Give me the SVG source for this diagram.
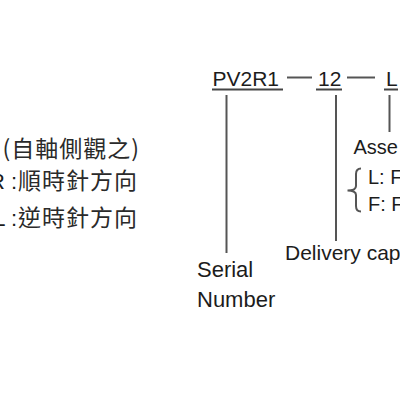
<svg xmlns="http://www.w3.org/2000/svg" width="400" height="400" viewBox="0 0 400 400">
<style>
.t{font-family:"Liberation Sans","Noto Sans CJK TC",sans-serif;fill:#1c1c1c}
.cjk{font-family:"Noto Sans CJK TC","Liberation Sans",sans-serif;fill:#2a2a2a;font-size:23px;letter-spacing:1px}
.ln{stroke:#555;stroke-width:2;fill:none}
.ul{stroke:#444;stroke-width:2}
</style>
<rect width="400" height="400" fill="#fff"/>
<g id="rotation-note">
<text class="cjk" x="2.5" y="157">(自軸側觀之)</text>
<text class="t" x="17" y="189" font-size="22" text-anchor="end">R :</text>
<text class="cjk" x="18" y="189">順時針方向</text>
<text class="t" x="17" y="226" font-size="22" text-anchor="end">L :</text>
<text class="cjk" x="18" y="226">逆時針方向</text>
</g>
<g id="code">
<g id="serial-code">
<text class="t" x="212.5" y="86" font-size="21">PV2R1</text>
<line class="ul" x1="212" y1="89.5" x2="283" y2="89.5"/>
</g>
<g id="capacity-code">
<text class="t" x="318" y="86" font-size="21">12</text>
<line class="ul" x1="316" y1="89.5" x2="342" y2="89.5"/>
</g>
<g id="assembly-code">
<text class="t" x="386" y="86" font-size="21">L</text>
<line class="ul" x1="384" y1="89.5" x2="398" y2="89.5"/>
</g>
</g>
<g id="connectors">
<line class="ln" x1="287" y1="77.5" x2="312" y2="77.5"/>
<line class="ln" x1="347" y1="77.5" x2="375" y2="77.5"/>
<line class="ln" x1="226.5" y1="95" x2="226.5" y2="253"/>
<line class="ln" x1="336" y1="95" x2="336" y2="241"/>
<line class="ln" x1="389.5" y1="95" x2="389.5" y2="132"/>
<path class="ln" stroke-width="1.6" d="M361,168.5 Q356,168.5 356,174 L356,186 Q356,190.5 347.5,190.5 Q356,190.5 356,195 L356,206 Q356,211.5 361,211.5"/>
</g>
<g id="serial-label">
<text class="t" x="197" y="277" font-size="22">Serial</text>
<text class="t" x="197" y="306.5" font-size="22">Number</text>
</g>
<g id="capacity-label">
<text class="t" x="285" y="260" font-size="21">Delivery cap</text>
</g>
<g id="assembly-label">
<text class="t" x="353.5" y="153.5" font-size="20">Asse</text>
<text class="t" x="368" y="183.5" font-size="20">L: F</text>
<text class="t" x="368" y="211" font-size="20">F: F</text>
</g>
</svg>
